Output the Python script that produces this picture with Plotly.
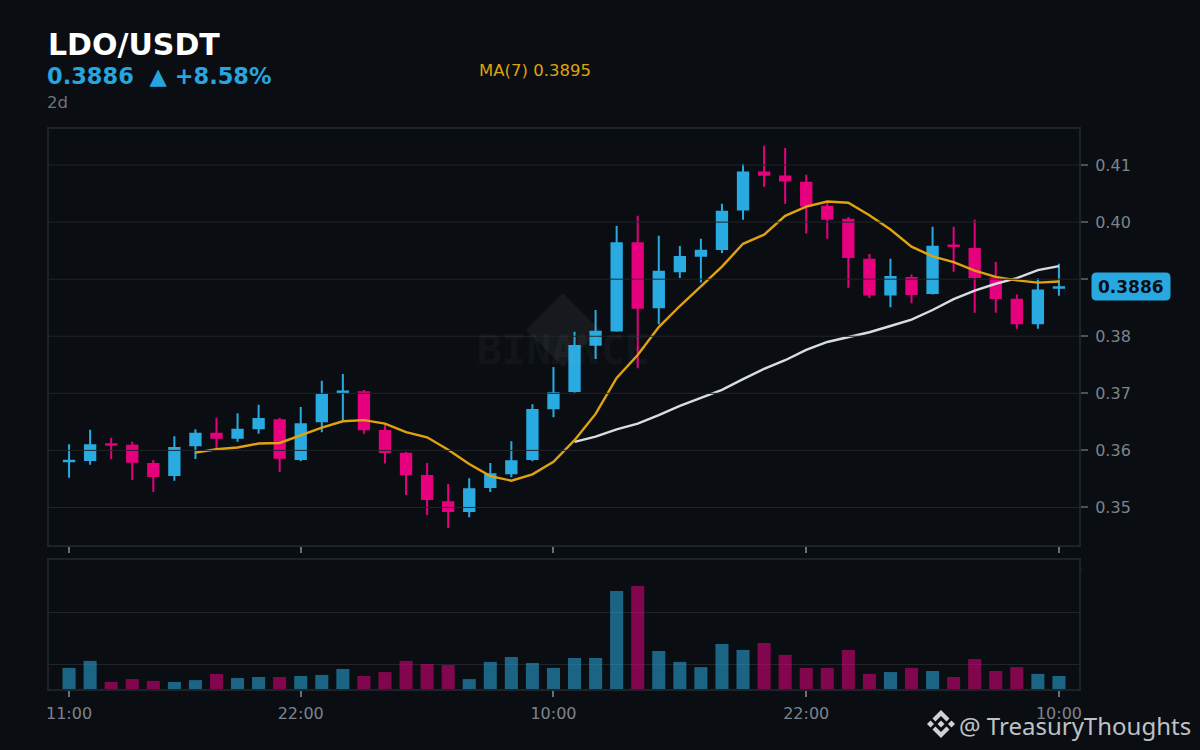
import plotly.graph_objects as go

open_ = [.3581,.3583,.3611,.3608,.3576,.3557,.3609,.3629,.3622,.3639,.3653,.3585,.3651,.3702,.3702,
         .3634,.3594,.3555,.3509,.3494,.3536,.3560,.3585,.3674,.3704,.3785,.3810,.3963,.3851,.3914,
         .3941,.3953,.4022,.4087,.4080,.4069,.4027,.4004,.3934,.3873,.3902,.3876,.3959,.3953,.3901,
         .3864,.3823,.3885]
high = [.3611,.3636,.3622,.3615,.3583,.3625,.3637,.3657,.3665,.3680,.3657,.3676,.3722,.3734,.3706,
        .3646,.3597,.3578,.3541,.3551,.3578,.3616,.3681,.3746,.3808,.3846,.3993,.4011,.3976,.3958,
        .3971,.4032,.4102,.4134,.4130,.4083,.4036,.4009,.3944,.3936,.3908,.3992,.3992,.4004,.3930,
        .3873,.3901,.3927]
low = [.3552,.3575,.3585,.3548,.3527,.3547,.3585,.3601,.3615,.3629,.3562,.3581,.3632,.3653,.3629,
       .3577,.3522,.3487,.3464,.3483,.3527,.3553,.3581,.3658,.3701,.3760,.3808,.3744,.3821,.3902,
       .3894,.3946,.4004,.4062,.4032,.3980,.3971,.3885,.3867,.3851,.3858,.3873,.3913,.3841,.3841,
       .3813,.3813,.3871]
close = [.3582,.3609,.3610,.3580,.3555,.3604,.3629,.3622,.3636,.3655,.3587,.3646,.3697,.3703,.3637,
         .3597,.3558,.3515,.3494,.3532,.3558,.3581,.3671,.3700,.3783,.3808,.3963,.3850,.3913,.3939,
         .3950,.4018,.4087,.4083,.4073,.4029,.4006,.3939,.3873,.3904,.3874,.3957,.3958,.3904,.3867,
         .3823,.3880,.3886]
ma7 = [None]*6 + [.3596,.3602,.3605,.3612,.3613,.3626,.3640,.3651,.3653,.3647,.3632,.3623,.3601,.3576,
                  .3555,.3547,.3558,.3580,.3618,.3664,.3727,.3767,.3816,.3853,.3887,.3922,.3962,.3978,
                  .4011,.4027,.4036,.4034,.4012,.3987,.3957,.3940,.3930,.3915,.3904,.3898,.3894,.3896]
ma25 = [None]*24 + [.3615,.3624,.3637,.3647,.3662,.3678,.3692,.3706,.3725,.3743,.3758,.3776,.3790,
                    .3799,.3807,.3818,.3829,.3846,.3865,.3880,.3892,.3902,.3916,.3923]
volume = [.85,1.12,.31,.42,.35,.31,.38,.62,.46,.50,.50,.54,.58,.81,.54,.69,1.12,1.00,.96,.42,1.08,1.27,
          1.04,.85,1.23,1.23,3.81,4.00,1.50,1.08,.88,1.77,1.54,1.81,1.35,.85,.85,1.54,.62,.69,.85,.73,
          .50,1.19,.73,.88,.62,.54]
time_ticks = [0, 11, 23, 35, 47]
time_labels = ["11:00", "22:00", "10:00", "22:00", "10:00"]
price_ticks = [.35, .36, .37, .38, .39, .40, .41]
volume_ticks = [1, 3, 5]

BG = "#0a0e12"; BLUE = "#29abe2"; PINK = "#e6007e"; GOLD = "#e0a30f"; WHITE = "#d9dde0"
GRID = "#212529"; FRAME = "#1e2327"; LABEL = "#7d838b"; TICK = "#6b7078"
SANS = "DejaVu Sans"

def px(x): return (x - 48) / 1032
def py(y): return (690 - y) / 562
def poly(points):
    return "M " + " L ".join(f"{px(x):.5f},{py(y):.5f}" for x, y in points) + " Z"

fig = go.Figure()
fig.add_trace(go.Candlestick(
    x=list(range(48)), open=open_, high=high, low=low, close=close,
    increasing=dict(line=dict(color=BLUE, width=2), fillcolor=BLUE),
    decreasing=dict(line=dict(color=PINK, width=2), fillcolor=PINK),
    xaxis="x", yaxis="y", hoverinfo="skip"))
fig.add_trace(go.Scatter(x=list(range(48)), y=ma25, mode="lines",
                         line=dict(color=WHITE, width=2.4), xaxis="x", yaxis="y", hoverinfo="skip"))
fig.add_trace(go.Scatter(x=list(range(48)), y=ma7, mode="lines",
                         line=dict(color=GOLD, width=2.4), xaxis="x", yaxis="y", hoverinfo="skip"))
vol_colors = ["rgba(41,171,226,0.55)" if c >= o else "rgba(230,0,126,0.55)" for o, c in zip(open_, close)]
fig.add_trace(go.Bar(x=list(range(48)), y=volume, marker=dict(color=vol_colors, line=dict(width=0)),
                     xaxis="x2", yaxis="y2", hoverinfo="skip"))

shapes = []
# faint logo of the watermark
shapes.append(dict(type="path", xref="paper", yref="paper", layer="below", line=dict(width=0),
                   fillcolor="rgba(255,255,255,0.05)",
                   path=poly([(563, 293), (600, 330), (563, 367), (526, 330)])))
# gridlines sit on top of the candles in the reference
for t in price_ticks:
    shapes.append(dict(type="line", xref="paper", yref="y", x0=0, x1=1, y0=t, y1=t, layer="above",
                       line=dict(color=GRID, width=1)))
# the upper panel's time labels are hidden behind the lower panel
shapes.append(dict(type="rect", xref="paper", yref="paper", layer="above", line=dict(width=0), fillcolor=BG,
                   x0=px(30), x1=px(1079), y0=py(580), y1=py(560)))
# panel frames
for top, bottom in ((128, 546), (559, 690)):
    shapes.append(dict(type="rect", xref="paper", yref="paper", layer="above",
                       line=dict(color=FRAME, width=2), fillcolor="rgba(0,0,0,0)",
                       x0=px(48), x1=px(1080), y0=py(bottom), y1=py(top)))
# price tag
tx0, tx1, ty0, ty1, r = 1091.5, 1170.5, 272.5, 300.5, 5
shapes.append(dict(type="path", xref="paper", yref="paper", layer="above", line=dict(width=0), fillcolor="#27a8e0",
    path=(f"M {px(tx0+r)},{py(ty0)} L {px(tx1-r)},{py(ty0)} Q {px(tx1)},{py(ty0)} {px(tx1)},{py(ty0+r)} "
          f"L {px(tx1)},{py(ty1-r)} Q {px(tx1)},{py(ty1)} {px(tx1-r)},{py(ty1)} "
          f"L {px(tx0+r)},{py(ty1)} Q {px(tx0)},{py(ty1)} {px(tx0)},{py(ty1-r)} "
          f"L {px(tx0)},{py(ty0+r)} Q {px(tx0)},{py(ty0)} {px(tx0+r)},{py(ty0)} Z")))
# small exchange logo bottom right
cx, cy = 941, 724
logo = "#cfd2d5"
for pts in (
    [(cx-3.5, cy), (cx, cy-3.5), (cx+3.5, cy), (cx, cy+3.5)],
    [(cx-14, cy), (cx-10.5, cy-3.5), (cx-7, cy), (cx-10.5, cy+3.5)],
    [(cx+14, cy), (cx+10.5, cy-3.5), (cx+7, cy), (cx+10.5, cy+3.5)],
    [(cx, cy-14), (cx+8.5, cy-5.5), (cx+5.5, cy-2.5), (cx, cy-8), (cx-5.5, cy-2.5), (cx-8.5, cy-5.5)],
    [(cx, cy+14), (cx+8.5, cy+5.5), (cx+5.5, cy+2.5), (cx, cy+8), (cx-5.5, cy+2.5), (cx-8.5, cy+5.5)],
):
    shapes.append(dict(type="path", xref="paper", yref="paper", layer="above", line=dict(width=0),
                       fillcolor=logo, path=poly(pts)))

def note(text, x, y, size, color, family=SANS, anchor="left", bold=False):
    return dict(text=f"<b>{text}</b>" if bold else text, xref="paper", yref="paper", x=px(x), y=py(y),
                xanchor=anchor, yanchor="middle", showarrow=False, align=anchor,
                font=dict(size=size, color=color, family=family), borderpad=0, borderwidth=0)

annotations = [
    note("LDO/USDT", 48, 44, 30, "#ffffff", bold=True),
    note("0.3886  ▲ +8.58%", 47, 76, 22.5, "#26a5df", bold=True),
    note("2d", 47, 102, 16.5, "#6f757c"),
    note("MA(7) 0.3895", 479, 70, 16.5, "#dfa20e"),
    note("BINANCE", 563, 350, 41, "rgba(255,255,255,0.05)", family="DejaVu Sans Mono", anchor="center", bold=True),
    note("0.3886", 1131, 286.5, 17, "#0a0e12", anchor="center", bold=True),
    note("@ TreasuryThoughts", 959, 725, 24, "rgba(225,228,231,0.85)", family="Noto Sans"),
]

common_x = dict(range=[-1, 48], tickmode="array", tickvals=time_ticks, ticktext=time_labels,
                ticks="outside", ticklen=6, tickwidth=2, tickcolor=TICK, showgrid=False, zeroline=False,
                showline=False, ticklabelstandoff=3, tickfont=dict(size=16, color=LABEL, family=SANS), fixedrange=True)

fig.update_layout(
    width=1200, height=750, margin=dict(l=48, r=120, t=128, b=60, pad=0),
    paper_bgcolor=BG, plot_bgcolor=BG, showlegend=False, boxgap=0.3, bargap=0.38,
    xaxis=dict(domain=[0, 1], anchor="y", rangeslider=dict(visible=False), **common_x),
    xaxis2=dict(domain=[0, 1], anchor="y2", **common_x),
    yaxis=dict(domain=[py(546), 1], anchor="x", side="right", range=[0.34325, 0.41649],
               tickmode="array", tickvals=price_ticks, ticktext=[f"{t:.2f}" for t in price_ticks],
               ticks="outside", ticklen=7, tickwidth=2, tickcolor="#4d5157", showgrid=False, zeroline=False,
               showline=False, ticklabelstandoff=4, tickfont=dict(size=16, color=LABEL, family=SANS), fixedrange=True),
    yaxis2=dict(domain=[0, py(559)], anchor="x2", side="right", range=[0, 131/26],
                tickmode="array", tickvals=volume_ticks, showticklabels=False, ticks="",
                showgrid=True, gridcolor=GRID, gridwidth=1, zeroline=False, showline=False, fixedrange=True),
    shapes=shapes, annotations=annotations,
)
fig.write_html("out.html", config=dict(displayModeBar=False),
               post_script=f"document.body.style.margin='0';document.body.style.background='{BG}';document.documentElement.style.overflow='hidden';")
